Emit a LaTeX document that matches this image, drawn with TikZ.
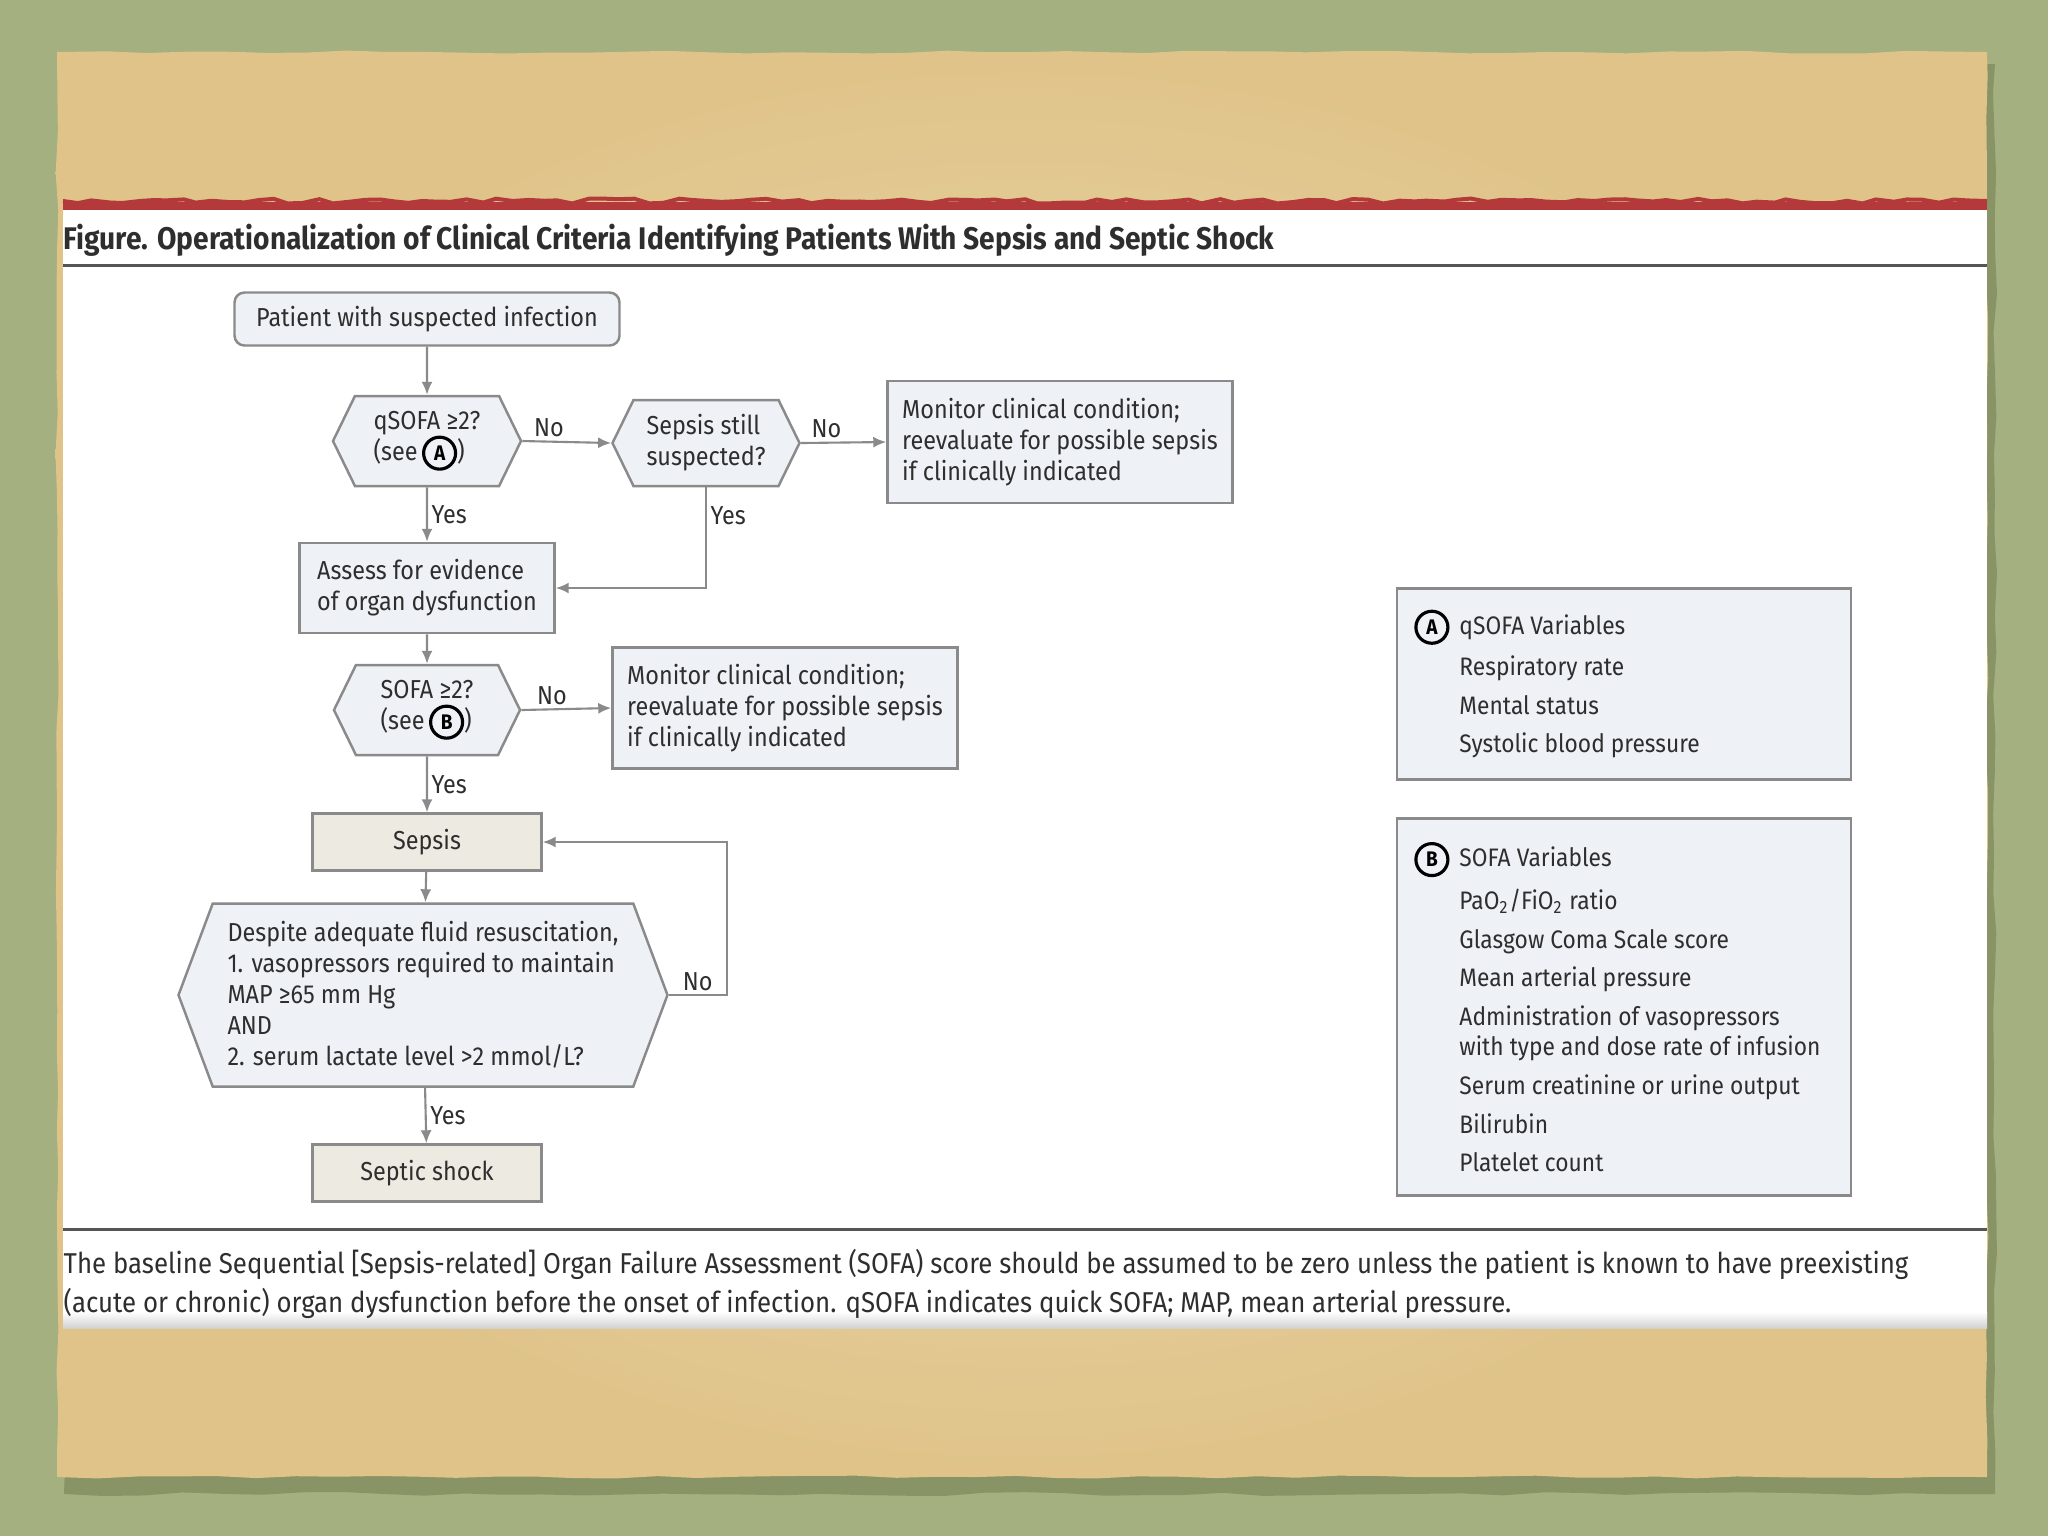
\documentclass[tikz,border=0pt]{standalone}
\usepackage{fontspec}
\setmainfont[FakeStretch=0.9]{Fira Sans}
\usepackage{tikz}
\usetikzlibrary{positioning, arrows.meta, shapes.symbols, decorations.pathmorphing, calc}

\definecolor{bggreen}{HTML}{A4B07F}
\definecolor{bgshadow}{HTML}{6E7A4C}
\definecolor{parch}{HTML}{EFDDB2}
\definecolor{parchdark}{HTML}{DFC389}
\definecolor{tornred}{HTML}{B4393A}
\definecolor{boxfill}{HTML}{EEF1F6}
\definecolor{sepfill}{HTML}{EDEAE2}
\definecolor{linegray}{HTML}{8A8A8A}
\definecolor{inkgray}{HTML}{2E2E2E}
\definecolor{rulegray}{HTML}{555555}

\newcommand{\circlab}[1]{\tikz[baseline=(c.base)]\node[circle, draw=black, line width=0.9pt, inner sep=0pt, minimum size=3.2mm, text=black, font=\bfseries\fontsize{6}{6}\selectfont] (c) {#1};}

\begin{document}
\begin{tikzpicture}[x=0.1mm, y=-0.1mm, font=\fontsize{7.4}{8.8}\selectfont, text=inkgray]
	\tikzset{
		box/.style={draw=linegray, line width=0.7pt, fill=boxfill, align=left, inner sep=0pt},
		hexa/.style={signal, signal to=east and west, signal pointer angle=128, draw=linegray, line width=0.7pt, fill=boxfill, align=left, inner sep=0pt},
		varlist/.style={anchor=west, align=left, inner sep=0pt, font=\fontsize{7.2}{8.6}\selectfont},
		arr/.style={draw=linegray, line width=0.6pt, -{Latex[length=1.3mm, width=1.1mm]}},
		lab/.style={text=inkgray, inner sep=1pt}
	}
	\useasboundingbox (0,0) rectangle (2048,1536);
	
	% 背景
	\fill[bggreen] (0,0) rectangle (2048,1536);
	\pgfmathsetseed{7}
	\fill[bgshadow, opacity=0.5, decorate, decoration={random steps, segment length=4mm, amplitude=0.2mm}] (64,64) rectangle (1995,1494);
	\shade[inner color=parch, outer color=parchdark, decorate, decoration={random steps, segment length=4mm, amplitude=0.15mm}] (57,52) rectangle (1987,1477);
	\fill[white] (63,205) rectangle (1987,1328);
	\shade[top color=white, bottom color=black!18] (63,1312) rectangle (1987,1328);
	\draw[tornred, line width=0.8mm] (63,206) -- (1987,206);
	\draw[tornred, line width=0.4mm, decorate, decoration={random steps, segment length=1.5mm, amplitude=0.25mm}] (63,201) -- (1987,201);
	
	% 标题与注释
	\node[anchor=base west, inner sep=0pt, font=\fontsize{8.9}{10}\selectfont\bfseries] (title) at (63,249) {Figure. Operationalization of Clinical Criteria Identifying Patients With Sepsis and Septic Shock};
	\draw[rulegray, line width=0.3mm] (63,265) -- (1987,265);
	\draw[rulegray, line width=0.3mm] (63,1229) -- (1987,1229);
	\node[anchor=north west, align=left, inner sep=0pt, font=\fontsize{8.16}{11}\selectfont] (note) at (63,1249) {The baseline Sequential [Sepsis-related] Organ Failure Assessment (SOFA) score should be assumed to be zero unless the patient is known to have preexisting\\(acute or chronic) organ dysfunction before the onset of infection. qSOFA indicates quick SOFA; MAP, mean arterial pressure.};
	
	% 流程图节点
	\node[box, rounded corners=1mm, minimum width=38.5mm, minimum height=5.3mm, align=center] (patient) at (427,319) {Patient with suspected infection};
	\node[hexa, minimum width=18.8mm, minimum height=9mm] (qsofa) at (427,441) {qSOFA ≥2?\\(see\,\circlab{A})};
	\node[hexa, minimum width=18.7mm, minimum height=8.6mm] (still) at (706,443) {Sepsis still\\suspected?};
	\node[box, minimum width=34.5mm, minimum height=12.2mm] (mon1) at (1060,442) {Monitor clinical condition;\\reevaluate for possible sepsis\\if clinically indicated};
	\node[box, minimum width=25.5mm, minimum height=9mm] (assess) at (427,588) {Assess for evidence\\of organ dysfunction};
	\node[hexa, minimum width=18.6mm, minimum height=9mm] (sofa) at (427,710) {SOFA ≥2?\\(see\,\circlab{B})};
	\node[box, minimum width=34.5mm, minimum height=12.1mm] (mon2) at (785,708) {Monitor clinical condition;\\reevaluate for possible sepsis\\if clinically indicated};
	\node[box, fill=sepfill, minimum width=22.9mm, minimum height=5.7mm, align=center] (sepsis) at (427,842) {Sepsis};
	\node[hexa, signal pointer angle=139, minimum width=48.9mm, minimum height=18.3mm] (shock) at (423,995) {Despite adequate fluid resuscitation,\\1. vasopressors required to maintain\\MAP ≥65 mm Hg\\AND\\2. serum lactate level >2 mmol/L?};
	\node[box, fill=sepfill, minimum width=22.9mm, minimum height=5.7mm, align=center] (septic) at (427,1173) {Septic shock};
	
	% 变量表
	\node[box, minimum width=45.4mm, minimum height=19.1mm] (qvar) at (1624,684) {};
	\node[varlist] (qvarlist) at ([xshift=6.3mm]qvar.west) {\llap{\circlab{A}\hspace{1mm}}qSOFA Variables\\[3.1pt]
		Respiratory rate\\[2.4pt]
		Mental status\\[2.4pt]
		Systolic blood pressure};
	\node[box, minimum width=45.4mm, minimum height=37.7mm] (svar) at (1624,1007) {};
	\node[varlist] (svarlist) at ([xshift=6.3mm]svar.west) {\llap{\circlab{B}\hspace{1mm}}SOFA Variables\\[2.4pt]
		PaO\textsubscript{2}/FiO\textsubscript{2} ratio\\[2.4pt]
		Glasgow Coma Scale score\\[2.4pt]
		Mean arterial pressure\\[2.4pt]
		Administration of vasopressors\\
		with type and dose rate of infusion\\[2.4pt]
		Serum creatinine or urine output\\[2.4pt]
		Bilirubin\\[2.4pt]
		Platelet count};
	
	% 连线
	\foreach \a/\b in {patient/qsofa, assess/sofa, sepsis/shock}
		\draw[arr] (\a) -- (\b);
	\draw[arr] (qsofa) -- node[lab, right] {Yes} (assess);
	\draw[arr] (sofa) -- node[lab, right] {Yes} (sepsis);
	\draw[arr] (shock) -- node[lab, right] {Yes} (septic);
	\draw[arr] (qsofa.east) -- node[lab, above, pos=0.3] {No} (still.west);
	\draw[arr] (still.east) -- node[lab, above, pos=0.3] {No} (mon1.west);
	\draw[arr] (sofa.east) -- node[lab, above, pos=0.34] {No} (mon2.west);
	\draw[arr] (still.south) |- node[lab, right, pos=0.14] {Yes} (assess.east);
	\draw[arr] (shock.east) -- node[lab, above] {No} ++(58,0) |- (sepsis.east);
\end{tikzpicture}
\end{document}
